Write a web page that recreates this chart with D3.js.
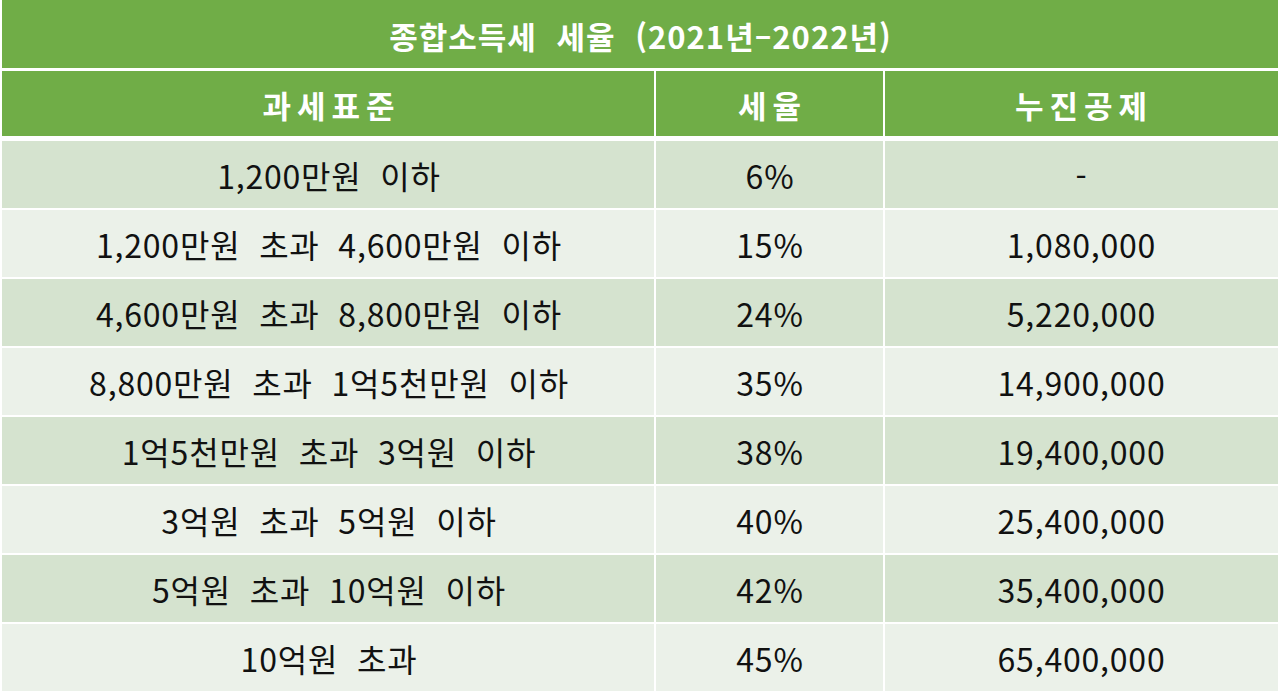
<!DOCTYPE html>
<html lang="ko">
<head>
<meta charset="UTF-8">
<script src="https://d3js.org/d3.v7.min.js"></script>
<style>
  body { margin: 0; background: #fff; }
  text { font-family: "Noto Sans CJK KR", "Noto Sans", sans-serif; }
</style>
</head>
<body>
<svg id="chart" width="1280" height="698"></svg>
<script>
const title = "종합소득세 세율 (2021년–2022년)";
const columns = ["과세표준", "세율", "누진공제"];
const brackets = ["1,200만원 이하", "1,200만원 초과 4,600만원 이하", "4,600만원 초과 8,800만원 이하",
  "8,800만원 초과 1억5천만원 이하", "1억5천만원 초과 3억원 이하", "3억원 초과 5억원 이하",
  "5억원 초과 10억원 이하", "10억원 초과"];
const rates = ["6%", "15%", "24%", "35%", "38%", "40%", "42%", "45%"];
const deductions = ["-", "1,080,000", "5,220,000", "14,900,000", "19,400,000", "25,400,000", "35,400,000", "65,400,000"];

const svg = d3.select("#chart");
const green = "#70ad47";
const colEdges = [2, 655, 884, 1278];
const x = d3.scaleOrdinal().domain([0, 1, 2]).range(colEdges.slice(0, 3));
const widthOf = i => colEdges[i + 1] - colEdges[i];
const y = d3.scaleBand().domain(d3.range(brackets.length)).range([140, 692]);

// title
svg.append("rect").attr("x", 2).attr("y", 0).attr("width", 1276).attr("height", 68).attr("fill", green);
svg.append("text").attr("x", 640 + 0.5).attr("y", 35).attr("text-anchor", "middle").attr("dominant-baseline", "central")
  .attr("fill", "#fff").attr("font-size", 31).attr("font-weight", "bold")
  .attr("letter-spacing", 1).attr("word-spacing", 10).text(title);

// header
const head = svg.append("g").selectAll("g").data(columns).join("g");
head.append("rect").attr("x", (d, i) => x(i) + (i ? 1 : 0)).attr("y", 71)
  .attr("width", (d, i) => widthOf(i) - (i ? 1 : 0) - (i < 2 ? 1 : 0)).attr("height", 65).attr("fill", green);
head.append("text").attr("x", (d, i) => x(i) + widthOf(i) / 2 + 3).attr("y", 104)
  .attr("text-anchor", "middle").attr("dominant-baseline", "central")
  .attr("fill", "#fff").attr("font-size", 31).attr("font-weight", "bold")
  .attr("letter-spacing", 6).text(d => d);

// body
const rows = brackets.map((b, i) => [b, rates[i], deductions[i]]);
const rowG = svg.append("g").selectAll("g").data(rows).join("g");
rowG.each(function (r, ri) {
  const g = d3.select(this);
  const fill = ri % 2 === 0 ? "#d5e3cf" : "#ebf1e9";
  r.forEach((v, ci) => {
    g.append("rect").attr("x", x(ci) + (ci ? 1 : 0)).attr("y", y(ri) + 1)
      .attr("width", widthOf(ci) - (ci ? 1 : 0) - (ci < 2 ? 1 : 0)).attr("height", y.bandwidth() - 2)
      .attr("fill", fill);
    g.append("text").attr("x", x(ci) + widthOf(ci) / 2 + 0.5).attr("y", y(ri) + y.bandwidth() / 2)
      .attr("text-anchor", "middle").attr("dominant-baseline", "central")
      .attr("fill", "#111").attr("font-size", 32)
      .attr("letter-spacing", 0.8).attr("word-spacing", 9).text(v);
  });
});
</script>
</body>
</html>
